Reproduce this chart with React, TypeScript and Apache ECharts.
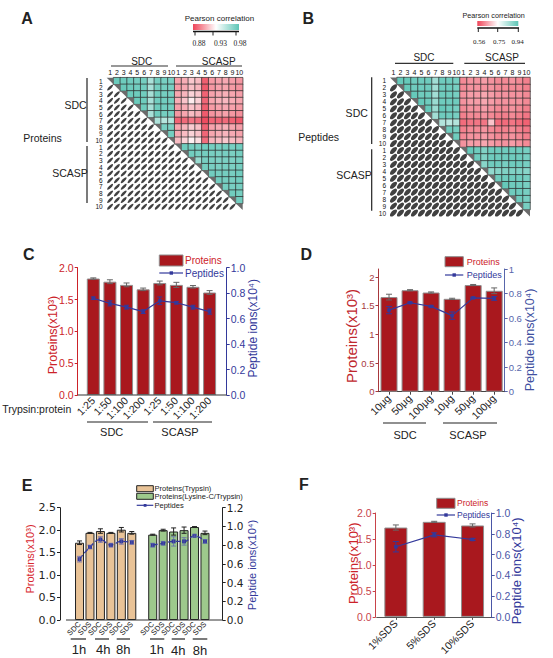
import React, { useEffect, useRef } from 'react';
import * as echarts from 'echarts';

// ---------------- Panels A / B : Pearson correlation matrices ----------------
const matrixGroups = ['SDC', 'SCASP'];
const replicateIds = ['1', '2', '3', '4', '5', '6', '7', '8', '9', '10'];
const corrRangeA = [0.88, 0.98];
const corrTicksA = ['0.88', '0.93', '0.98'];
const corrRangeB = [0.56, 0.94];
const corrTicksB = ['0.56', '0.75', '0.94'];

// upper triangle, row i holds the values of columns i+1 .. 20 (SDC1-10, SCASP1-10)
const proteinCorrRows: number[][] = [
  [0.976, 0.975, 0.974, 0.973, 0.973, 0.956, 0.973, 0.972, 0.971, 0.905, 0.908, 0.915, 0.912, 0.887, 0.903, 0.905, 0.907, 0.904, 0.902],
  [0.977, 0.975, 0.974, 0.974, 0.957, 0.973, 0.973, 0.972, 0.903, 0.907, 0.913, 0.91, 0.886, 0.902, 0.905, 0.906, 0.903, 0.901],
  [0.976, 0.975, 0.974, 0.958, 0.974, 0.973, 0.972, 0.906, 0.91, 0.918, 0.915, 0.888, 0.905, 0.907, 0.909, 0.906, 0.904],
  [0.976, 0.975, 0.957, 0.974, 0.974, 0.973, 0.908, 0.914, 0.925, 0.918, 0.889, 0.906, 0.909, 0.911, 0.908, 0.906],
  [0.975, 0.958, 0.975, 0.974, 0.973, 0.904, 0.908, 0.914, 0.911, 0.887, 0.903, 0.905, 0.907, 0.905, 0.903],
  [0.957, 0.974, 0.973, 0.972, 0.902, 0.906, 0.912, 0.909, 0.886, 0.901, 0.903, 0.905, 0.902, 0.9],
  [0.955, 0.953, 0.954, 0.888, 0.89, 0.893, 0.891, 0.882, 0.889, 0.889, 0.89, 0.888, 0.886],
  [0.972, 0.971, 0.906, 0.91, 0.916, 0.913, 0.888, 0.905, 0.907, 0.909, 0.906, 0.904],
  [0.973, 0.907, 0.912, 0.918, 0.914, 0.889, 0.906, 0.908, 0.91, 0.907, 0.905],
  [0.912, 0.918, 0.926, 0.921, 0.891, 0.91, 0.912, 0.915, 0.912, 0.91],
  [0.975, 0.973, 0.972, 0.974, 0.973, 0.972, 0.973, 0.972, 0.974],
  [0.974, 0.972, 0.973, 0.972, 0.971, 0.972, 0.971, 0.973],
  [0.962, 0.972, 0.971, 0.97, 0.971, 0.97, 0.972],
  [0.973, 0.972, 0.971, 0.972, 0.971, 0.973],
  [0.974, 0.973, 0.973, 0.972, 0.974],
  [0.974, 0.973, 0.972, 0.974],
  [0.973, 0.972, 0.973],
  [0.974, 0.973],
  [0.974],
];

const peptideCorrRows: number[][] = [
  [0.93, 0.93, 0.92, 0.92, 0.92, 0.86, 0.92, 0.92, 0.91, 0.63, 0.64, 0.64, 0.65, 0.64, 0.63, 0.63, 0.64, 0.63, 0.62],
  [0.93, 0.92, 0.92, 0.92, 0.86, 0.92, 0.92, 0.91, 0.63, 0.64, 0.64, 0.64, 0.64, 0.63, 0.63, 0.63, 0.63, 0.62],
  [0.93, 0.92, 0.92, 0.86, 0.92, 0.92, 0.91, 0.64, 0.65, 0.65, 0.66, 0.65, 0.64, 0.64, 0.64, 0.64, 0.63],
  [0.93, 0.92, 0.87, 0.92, 0.92, 0.92, 0.64, 0.65, 0.65, 0.66, 0.65, 0.64, 0.64, 0.64, 0.64, 0.63],
  [0.93, 0.87, 0.93, 0.92, 0.91, 0.63, 0.64, 0.64, 0.65, 0.64, 0.63, 0.63, 0.64, 0.63, 0.62],
  [0.86, 0.92, 0.92, 0.91, 0.62, 0.63, 0.63, 0.64, 0.63, 0.62, 0.62, 0.63, 0.62, 0.61],
  [0.84, 0.83, 0.84, 0.6, 0.61, 0.61, 0.61, 0.69, 0.6, 0.6, 0.61, 0.6, 0.59],
  [0.92, 0.91, 0.62, 0.63, 0.63, 0.64, 0.63, 0.62, 0.62, 0.63, 0.62, 0.61],
  [0.92, 0.63, 0.64, 0.64, 0.65, 0.64, 0.63, 0.63, 0.64, 0.63, 0.62],
  [0.64, 0.65, 0.65, 0.66, 0.65, 0.64, 0.64, 0.65, 0.64, 0.63],
  [0.93, 0.92, 0.9, 0.92, 0.92, 0.92, 0.92, 0.92, 0.91],
  [0.92, 0.9, 0.92, 0.92, 0.92, 0.92, 0.92, 0.91],
  [0.89, 0.92, 0.92, 0.91, 0.92, 0.92, 0.91],
  [0.88, 0.89, 0.9, 0.9, 0.9, 0.89],
  [0.92, 0.92, 0.92, 0.92, 0.91],
  [0.93, 0.92, 0.92, 0.91],
  [0.92, 0.92, 0.91],
  [0.92, 0.91],
  [0.91],
];

// ---------------- Panel C ----------------
const cGroups = ['SDC', 'SCASP'];
const cRatios = ['1:25', '1:50', '1:100', '1:200'];
const cProteins = [1.83, 1.78, 1.73, 1.66, 1.76, 1.73, 1.7, 1.61];
const cProteinsErr = [0.01, 0.03, 0.03, 0.02, 0.03, 0.04, 0.02, 0.03];
const cPeptides = [0.76, 0.72, 0.69, 0.655, 0.74, 0.725, 0.69, 0.655];
const cPeptidesErr = [0.01, 0.02, 0.015, 0.015, 0.03, 0.01, 0.015, 0.02];

// ---------------- Panel D ----------------
const dGroups = ['SDC', 'SCASP'];
const dAmounts = ['10μg', '50μg', '100μg'];
const dProteins = [1.65, 1.77, 1.73, 1.62, 1.86, 1.76];
const dProteinsErr = [0.05, 0.01, 0.01, 0.01, 0.01, 0.05];
const dPeptides = [0.665, 0.725, 0.695, 0.62, 0.765, 0.76];
const dPeptidesErr = [0.03, 0.005, 0.005, 0.03, 0.005, 0.015];

// ---------------- Panel E ----------------
const eTimes = ['1h', '4h', '8h'];
const eMethods = ['SDC', 'SDS'];
const eTrypsin = [1.72, 1.94, 1.98, 1.94, 2.01, 1.94];
const eTrypsinErr = [0.04, 0.01, 0.05, 0.01, 0.05, 0.03];
const eLysC = [1.9, 2.0, 1.97, 2.0, 2.07, 1.94];
const eLysCErr = [0.01, 0.02, 0.08, 0.07, 0.01, 0.04];
const ePepTrypsin = [0.65, 0.78, 0.86, 0.8, 0.84, 0.83];
const ePepTrypsinErr = [0.03, 0.02, 0.03, 0.02, 0.03, 0.02];
const ePepLysC = [0.8, 0.82, 0.84, 0.84, 0.9, 0.84];
const ePepLysCErr = [0.02, 0.02, 0.05, 0.04, 0.01, 0.02];

// ---------------- Panel F ----------------
const fConditions = ['1%SDS', '5%SDS', '10%SDS'];
const fProteins = [1.72, 1.83, 1.76];
const fProteinsErr = [0.05, 0.01, 0.03];
const fPeptides = [0.675, 0.79, 0.745];
const fPeptidesErr = [0.05, 0.02, 0.01];

// ---------------- styling ----------------
const FONT = 'Liberation Sans, Arial, sans-serif';
const NARROW = 'Liberation Sans Narrow, Liberation Sans, Arial, sans-serif';
const TEAL = '#5ec6b6';
const HM_RED = '#ee4559';
const BAR_RED = '#a9181e';
const BAR_EDGE = '#8e8e8e';
const RED_TXT = '#cc2229';
const BLUE = '#33399b';
const ORANGE = '#e9c397';
const GREEN = '#9dc98c';

const matrixCategories = matrixGroups.flatMap((g) => replicateIds.map((r) => `${g} ${r}`));

function upperCells(rows: number[][]) {
  const out: number[][] = [];
  rows.forEach((vals, i) => vals.forEach((v, k) => out.push([i + 1 + k, i, v])));
  return out;
}
function lowerCells(n: number) {
  const out: number[][] = [];
  for (let i = 0; i < n; i++) for (let j = 0; j < i; j++) out.push([j, i]);
  return out;
}
function diagCells(n: number) {
  const out: number[][] = [];
  for (let i = 0; i < n; i++) out.push([i, i]);
  return out;
}
function errData(vals: (number | null)[], errs: (number | null)[], offset = 0) {
  const out: number[][] = [];
  vals.forEach((v, i) => {
    if (v == null || errs[i] == null) return;
    out.push([i + offset, v - (errs[i] as number), v + (errs[i] as number)]);
  });
  return out;
}

const diagRender = (_p: any, api: any) => {
  const c = api.coord([api.value(0), api.value(1)]);
  const s = api.size([1, 1]);
  const x0 = c[0] - s[0] / 2, x1 = c[0] + s[0] / 2, y0 = c[1] - s[1] / 2, y1 = c[1] + s[1] / 2;
  return { type: 'polygon', shape: { points: [[x0, y0], [x1, y0], [x1, y1]] }, style: { fill: '#6b6b6b' } };
};

const errRender = (color: string, cap: number, opacity: number) => (_p: any, api: any) => {
  const x = api.value(0);
  const lo = api.coord([x, api.value(1)]);
  const hi = api.coord([x, api.value(2)]);
  const st = { stroke: color, lineWidth: 1, opacity };
  return {
    type: 'group',
    children: [
      { type: 'line', shape: { x1: hi[0], y1: hi[1], x2: lo[0], y2: lo[1] }, style: st },
      { type: 'line', shape: { x1: hi[0] - cap, y1: hi[1], x2: hi[0] + cap, y2: hi[1] }, style: st },
      { type: 'line', shape: { x1: lo[0] - cap, y1: lo[1], x2: lo[0] + cap, y2: lo[1] }, style: st },
    ],
  };
};

function errSeries(data: number[][], xi: number, yi: number, color: string, cap: number, opacity = 1) {
  return {
    type: 'custom', xAxisIndex: xi, yAxisIndex: yi, data, silent: true, z: 6,
    encode: { x: 0, y: [1, 2] }, renderItem: errRender(color, cap, opacity),
  };
}

function T(x: number, y: number, text: string, o: any = {}) {
  return {
    type: 'text', x, y, rotation: o.rot || 0, silent: true, z: 20,
    style: {
      text, fill: o.color || '#222',
      font: `${o.weight || 'normal'} ${o.size || 10}px ${o.family || FONT}`,
      textAlign: o.align || 'center', textVerticalAlign: o.valign || 'middle',
    },
  };
}
function L(x1: number, y1: number, x2: number, y2: number, color = '#222', w = 1) {
  return { type: 'line', silent: true, z: 20, shape: { x1, y1, x2, y2 }, style: { stroke: color, lineWidth: w } };
}
function R(x: number, y: number, w: number, h: number, fill: any, stroke: string | null = null) {
  return { type: 'rect', silent: true, z: 20, shape: { x, y, width: w, height: h }, style: { fill, stroke: stroke || undefined, lineWidth: 1 } };
}
function grad() {
  return new echarts.graphic.LinearGradient(0, 0, 1, 0, [
    { offset: 0, color: HM_RED }, { offset: 0.5, color: '#ffffff' }, { offset: 1, color: TEAL },
  ]);
}

function hmXAxis(gi: number, fs: number) {
  return {
    type: 'category', gridIndex: gi, data: matrixCategories, position: 'top',
    axisLine: { show: false }, axisTick: { show: false }, splitLine: { show: false },
    axisLabel: { interval: 0, fontSize: fs, fontFamily: NARROW, margin: 2, color: '#111', formatter: (v: string) => v.split(' ')[1] },
  };
}
function hmYAxis(gi: number, fs: number) {
  return {
    type: 'category', gridIndex: gi, data: matrixCategories, inverse: true,
    axisLine: { show: false }, axisTick: { show: false }, splitLine: { show: false },
    axisLabel: { interval: 0, fontSize: fs, fontFamily: NARROW, margin: 4, color: '#111', formatter: (v: string) => v.split(' ')[1] },
  };
}
function valAxis(gi: number, pos: string, offset: number, max: number, interval: number, color: string, labelColor: string, fs: number, fmt: (v: number) => string, extra: any = {}) {
  return {
    type: 'value', gridIndex: gi, position: pos, offset, min: 0, max, interval,
    axisLine: { show: true, lineStyle: { color, width: 1 } },
    axisTick: { show: true, length: 3, lineStyle: { color } },
    splitLine: { show: false },
    axisLabel: { color: labelColor, fontSize: fs, margin: 4, formatter: fmt, fontFamily: extra.family || FONT, showMaxLabel: extra.showMax !== false ? undefined : false },
  };
}
const f1 = (v: number) => v.toFixed(1);
const fPlain = (v: number) => String(+v.toFixed(2));

function buildOption() {
  const cCategories = cGroups.flatMap((g) => cRatios.map((r) => `${g}|${r}`));
  const dCategories = dGroups.flatMap((g) => dAmounts.map((a) => `${g}|${a}`));
  const eHalf = (tag: string) => eTimes.flatMap((t) => eMethods.map((m) => `${tag}|${t}|${m}`));
  const eCategories = [...eHalf('T'), 'gap', ...eHalf('L')];
  const blank6 = eTrypsin.map(() => '-');
  const gapIdx = eTrypsin.length + 1;

  const grid = [
    { left: 106.7, top: 77.7, width: 136, height: 132.3 },
    { left: 390, top: 77.5, width: 140, height: 139 },
    { left: 85, top: 267.7, width: 132.9, height: 127.3 },
    { left: 378.5, top: 269, width: 126.2, height: 122.7 },
    { left: 74.3, top: 507.7, width: 135.9, height: 112.3 },
    { left: 376.7, top: 513, width: 115, height: 108.7 },
  ];

  const xAxis = [
    hmXAxis(0, 7),
    hmXAxis(1, 7),
    {
      type: 'category', gridIndex: 2, data: cCategories, axisLine: { show: false }, axisTick: { show: false },
      axisLabel: { interval: 0, rotate: 45, fontSize: 10.5, color: '#222', margin: 4, formatter: (v: string) => v.split('|')[1] },
    },
    {
      type: 'category', gridIndex: 3, data: dCategories, axisLine: { show: true, lineStyle: { color: '#444' } },
      axisTick: { show: true, alignWithLabel: true, length: 3, lineStyle: { color: '#444' } },
      axisLabel: { interval: 0, rotate: 45, fontSize: 10.5, color: '#222', margin: 5, formatter: (v: string) => v.split('|')[1] },
    },
    {
      type: 'category', gridIndex: 4, data: eCategories, axisLine: { show: false }, axisTick: { show: false },
      axisLabel: { interval: 0, rotate: 45, fontSize: 7.5, color: '#222', margin: 3, formatter: (v: string) => (v === 'gap' ? '' : v.split('|')[2]) },
    },
    {
      type: 'category', gridIndex: 5, data: fConditions, axisLine: { show: true, lineStyle: { color: '#555' } },
      axisTick: { show: true, alignWithLabel: true, length: 3, lineStyle: { color: '#555' } },
      axisLabel: { interval: 0, rotate: 45, fontSize: 10.5, color: '#222', margin: 5 },
    },
  ];

  const yAxis = [
    hmYAxis(0, 6.5),
    hmYAxis(1, 6.5),
    valAxis(2, 'left', 7.3, 2, 0.5, RED_TXT, RED_TXT, 10.5, f1),
    valAxis(2, 'right', 8.8, 1, 0.2, BLUE, BLUE, 10.5, f1),
    valAxis(3, 'left', 0, 2.14, 0.5, '#a8383c', '#a8383c', 9.5, fPlain, { showMax: false }),
    valAxis(3, 'right', 0, 1, 0.2, '#5866ab', '#5866ab', 9.5, fPlain),
    valAxis(4, 'left', 14.3, 2.5, 0.5, '#222', '#222', 11, f1, { family: 'DejaVu Sans' }),
    valAxis(4, 'right', 12.5, 1.2, 0.2, '#222', '#222', 10.5, f1, { family: 'DejaVu Sans' }),
    valAxis(5, 'left', 1, 2, 0.5, '#c8434a', '#c8434a', 10.5, f1),
    valAxis(5, 'right', 0, 1, 0.2, '#4a56a6', '#4a56a6', 10.5, f1),
  ];

  const series: any[] = [
    { type: 'heatmap', xAxisIndex: 0, yAxisIndex: 0, data: upperCells(proteinCorrRows), silent: true, emphasis: { disabled: true }, itemStyle: { borderColor: '#2b2b2b', borderWidth: 0.7 } },
    { type: 'heatmap', xAxisIndex: 1, yAxisIndex: 1, data: upperCells(peptideCorrRows), silent: true, emphasis: { disabled: true }, itemStyle: { borderColor: '#2b2b2b', borderWidth: 0.7 } },
    { type: 'custom', xAxisIndex: 0, yAxisIndex: 0, data: diagCells(matrixCategories.length), renderItem: diagRender, silent: true },
    { type: 'custom', xAxisIndex: 1, yAxisIndex: 1, data: diagCells(matrixCategories.length), renderItem: diagRender, silent: true },
    { type: 'scatter', xAxisIndex: 0, yAxisIndex: 0, data: lowerCells(matrixCategories.length), symbol: 'circle', symbolSize: [8, 2.6], symbolRotate: 45, itemStyle: { color: '#111' }, silent: true },
    { type: 'scatter', xAxisIndex: 1, yAxisIndex: 1, data: lowerCells(matrixCategories.length), symbol: 'circle', symbolSize: [9, 4.4], symbolRotate: 45, itemStyle: { color: '#111' }, silent: true },

    // C
    { type: 'bar', xAxisIndex: 2, yAxisIndex: 2, data: cProteins, barWidth: 13, itemStyle: { color: BAR_RED, borderColor: BAR_EDGE, borderWidth: 1 }, silent: true },
    errSeries(errData(cProteins, cProteinsErr), 2, 2, '#666', 3),
    { type: 'line', xAxisIndex: 2, yAxisIndex: 3, data: cPeptides, symbol: 'rect', symbolSize: 3.5, lineStyle: { color: BLUE, width: 1.2 }, itemStyle: { color: BLUE }, silent: true, z: 5 },
    errSeries(errData(cPeptides, cPeptidesErr), 2, 3, BLUE, 2.5),

    // D
    { type: 'bar', xAxisIndex: 3, yAxisIndex: 4, data: dProteins, barWidth: 17, itemStyle: { color: BAR_RED, borderColor: BAR_EDGE, borderWidth: 1 }, silent: true },
    errSeries(errData(dProteins, dProteinsErr), 3, 4, '#666', 3),
    { type: 'line', xAxisIndex: 3, yAxisIndex: 5, data: dPeptides, symbol: 'rect', symbolSize: 3.5, lineStyle: { color: BLUE, width: 1.2 }, itemStyle: { color: BLUE }, silent: true, z: 5 },
    errSeries(errData(dPeptides, dPeptidesErr), 3, 5, BLUE, 3),

    // E
    { type: 'bar', xAxisIndex: 4, yAxisIndex: 6, data: [...eTrypsin, '-', ...blank6], barWidth: 9, barGap: '-100%', itemStyle: { color: ORANGE, borderColor: '#222', borderWidth: 1 }, silent: true },
    { type: 'bar', xAxisIndex: 4, yAxisIndex: 6, data: [...blank6, '-', ...eLysC], barWidth: 9, barGap: '-100%', itemStyle: { color: GREEN, borderColor: '#222', borderWidth: 1 }, silent: true },
    errSeries(errData(eTrypsin, eTrypsinErr), 4, 6, '#222', 2.5),
    errSeries(errData(eLysC, eLysCErr, gapIdx), 4, 6, '#222', 2.5),
    { type: 'line', xAxisIndex: 4, yAxisIndex: 7, data: [...ePepTrypsin, '-', ...ePepLysC], smooth: true, symbol: 'rect', symbolSize: 4, lineStyle: { color: BLUE, width: 1.3, type: 'dashed' }, itemStyle: { color: BLUE }, silent: true, z: 5 },
    errSeries(errData(ePepTrypsin, ePepTrypsinErr), 4, 7, '#5a60b0', 2.5, 0.7),
    errSeries(errData(ePepLysC, ePepLysCErr, gapIdx), 4, 7, '#5a60b0', 2.5, 0.7),

    // F
    { type: 'bar', xAxisIndex: 5, yAxisIndex: 8, data: fProteins, barWidth: 23, itemStyle: { color: BAR_RED, borderColor: BAR_EDGE, borderWidth: 1 }, silent: true },
    errSeries(errData(fProteins, fProteinsErr), 5, 8, '#666', 3),
    { type: 'line', xAxisIndex: 5, yAxisIndex: 9, data: fPeptides, symbol: 'rect', symbolSize: 3.5, lineStyle: { color: BLUE, width: 1.2 }, itemStyle: { color: BLUE }, silent: true, z: 5 },
    errSeries(errData(fPeptides, fPeptidesErr), 5, 9, BLUE, 3),
  ];

  const serif = 'Liberation Serif, serif';
  const P = Math.PI / 2;
  const graphic: any[] = [
    // ---- A ----
    T(27, 18, 'A', { size: 16, weight: 'bold' }),
    T(219.4, 18, 'Pearson correlation', { size: 8 }),
    R(193, 24, 46, 6, grad()),
    L(193, 31.5, 239, 31.5, '#111', 1.5), L(195, 31.5, 195, 35.5), L(213, 31.5, 213, 35.5), L(236, 31.5, 236, 35.5),
    T(199, 43, corrTicksA[0], { size: 7.5, family: serif }),
    T(220.5, 43, corrTicksA[1], { size: 7.5, family: serif }),
    T(240, 43, corrTicksA[2], { size: 7.5, family: serif }),
    T(141.7, 61, matrixGroups[0], { size: 10 }), L(111, 66, 168, 66, '#333', 1.2),
    T(218.7, 61, matrixGroups[1], { size: 10 }), L(176, 66, 242, 66, '#333', 1.2),
    L(87, 78, 87, 142, '#222', 1.2), L(87, 146, 87, 203, '#222', 1.2),
    T(75.5, 105, matrixGroups[0], { size: 10.5 }),
    T(70, 173, matrixGroups[1], { size: 10.5 }),
    T(42.5, 138, 'Proteins', { size: 10.5 }),
    // ---- B ----
    T(308.3, 18, 'B', { size: 16, weight: 'bold' }),
    T(493.7, 15, 'Pearson correlation', { size: 7.2 }),
    R(477.3, 21, 41, 5, grad()),
    L(477.3, 28, 519, 28, '#111', 1.5), L(478.3, 28, 478.3, 32), L(497.7, 28, 497.7, 32), L(518.3, 28, 518.3, 32),
    T(479, 42, corrTicksB[0], { size: 7, family: serif }),
    T(499, 42, corrTicksB[1], { size: 7, family: serif }),
    T(517.5, 42, corrTicksB[2], { size: 7, family: serif }),
    T(424, 57, matrixGroups[0], { size: 10 }), L(395, 63.3, 453.3, 63.3, '#333', 1.2),
    T(502, 57, matrixGroups[1], { size: 10 }), L(464.3, 63.3, 525, 63.3, '#333', 1.2),
    L(371.7, 77.3, 371.7, 144, '#222', 1.2), L(371.7, 149.3, 371.7, 210.7, '#222', 1.2),
    T(356.7, 113.3, matrixGroups[0], { size: 10.5 }),
    T(354, 175, matrixGroups[1], { size: 10.5 }),
    T(318.7, 136.7, 'Peptides', { size: 10.5 }),
    // ---- C ----
    T(28.8, 254, 'C', { size: 16, weight: 'bold' }),
    L(77.7, 395, 226.7, 395, '#333', 1),
    R(159.3, 255, 23.7, 11, BAR_RED, BAR_EDGE),
    T(185, 260.5, 'Proteins', { size: 10, color: RED_TXT, align: 'left' }),
    L(159.3, 273, 183, 273, BLUE, 1.2), R(169.6, 271.3, 3.4, 3.4, BLUE),
    T(185, 273, 'Peptides', { size: 10, color: BLUE, align: 'left' }),
    T(53.3, 335, 'Proteins(x10³)', { size: 12.5, color: RED_TXT, rot: P }),
    T(253.3, 328.3, 'Peptide ions(x10⁴)', { size: 12, color: BLUE, rot: P }),
    T(36.7, 409, 'Trypsin:protein', { size: 10.5 }),
    L(87, 422, 148, 422, '#222', 1.2), T(111.7, 432, cGroups[0], { size: 11 }),
    L(153, 422, 212, 422, '#222', 1.2), T(180, 432, cGroups[1], { size: 11 }),
    // ---- D ----
    T(306.3, 254, 'D', { size: 16, weight: 'bold' }),
    R(445, 256.7, 18.3, 10, BAR_RED, BAR_EDGE),
    T(466.7, 261.7, 'Proteins', { size: 9, color: RED_TXT, align: 'left' }),
    L(445, 275, 463.3, 275, BLUE, 1.2), R(452.5, 273.3, 3.4, 3.4, BLUE),
    T(466.7, 275, 'Peptides', { size: 9, color: BLUE, align: 'left' }),
    T(351.7, 336, 'Proteins(x10³)', { size: 15, color: '#c0282e', rot: P }),
    T(530, 340, 'Peptide ions(x10⁴)', { size: 12.5, color: '#4050a0', rot: P }),
    L(383, 423, 426, 423, '#222', 1.2), T(405, 435, dGroups[0], { size: 11 }),
    L(443, 423, 497, 423, '#222', 1.2), T(468, 435, dGroups[1], { size: 11 }),
    // ---- E ----
    T(27.2, 485.3, 'E', { size: 16, weight: 'bold' }),
    L(66, 620, 223, 620, '#333', 1),
    R(136.7, 485.7, 16.6, 6, ORANGE, '#222'),
    T(154.5, 488.7, 'Proteins(Trypsin)', { size: 7.5, align: 'left' }),
    R(136.7, 493.3, 16.6, 6, GREEN, '#222'),
    T(154.5, 496.3, 'Proteins(Lysine-C/Trypsin)', { size: 7.5, align: 'left' }),
    L(136.7, 505.3, 153.3, 505.3, BLUE, 1.2), R(143.7, 504, 2.8, 2.8, BLUE),
    T(154.5, 505.3, 'Peptides', { size: 7.5, align: 'left' }),
    T(30, 559, 'Proteins(x10³)', { size: 11, color: '#d7262e', rot: P }),
    T(251.7, 565, 'Peptide ions(x10⁴)', { size: 11, color: BLUE, rot: P }),
    L(70.7, 639, 86, 639, '#222', 1.2), T(79, 649.3, eTimes[0], { size: 13 }),
    L(95, 639, 109, 639, '#222', 1.2), T(103.3, 649.3, eTimes[1], { size: 13 }),
    L(116.7, 639, 130, 639, '#222', 1.2), T(123.3, 649.3, eTimes[2], { size: 13 }),
    L(150, 639, 164.3, 639, '#222', 1.2), T(156.7, 649.3, eTimes[0], { size: 13 }),
    L(171.7, 639, 185, 639, '#222', 1.2), T(178.3, 650, eTimes[1], { size: 13 }),
    L(192.7, 639, 207.3, 639, '#222', 1.2), T(200, 650.7, eTimes[2], { size: 13 }),
    // ---- F ----
    T(304, 484.5, 'F', { size: 16, weight: 'bold' }),
    R(436.7, 498.3, 18.3, 10, BAR_RED, BAR_EDGE),
    T(457, 503.3, 'Proteins', { size: 8.5, color: RED_TXT, align: 'left' }),
    L(436.7, 515, 455, 515, BLUE, 1.2), R(444.3, 513.3, 3.4, 3.4, BLUE),
    T(457, 515, 'Peptides', { size: 8.5, color: BLUE, align: 'left' }),
    T(353.3, 563.3, 'Proteins(x10³)', { size: 13, color: RED_TXT, rot: P }),
    T(516.7, 570.8, 'Peptide ions(x10⁴)', { size: 13, color: BLUE, rot: P }),
  ];

  return {
    animation: false,
    backgroundColor: '#ffffff',
    textStyle: { fontFamily: FONT },
    grid,
    xAxis,
    yAxis,
    visualMap: [
      { type: 'continuous', show: false, seriesIndex: 0, dimension: 2, min: corrRangeA[0], max: corrRangeA[1], inRange: { color: [HM_RED, '#ffffff', TEAL] } },
      { type: 'continuous', show: false, seriesIndex: 1, dimension: 2, min: corrRangeB[0], max: corrRangeB[1], inRange: { color: [HM_RED, '#ffffff', TEAL] } },
    ],
    series,
    graphic,
  };
}

export default function App() {
  const ref = useRef<HTMLDivElement>(null);
  useEffect(() => {
    const chart = echarts.init(ref.current as HTMLDivElement, null, { renderer: 'svg' });
    chart.setOption(buildOption() as any);
    return () => chart.dispose();
  }, []);
  return <div ref={ref} style={{ position: 'fixed', left: 0, top: 0, width: 553, height: 658, background: '#fff' }} />;
}
